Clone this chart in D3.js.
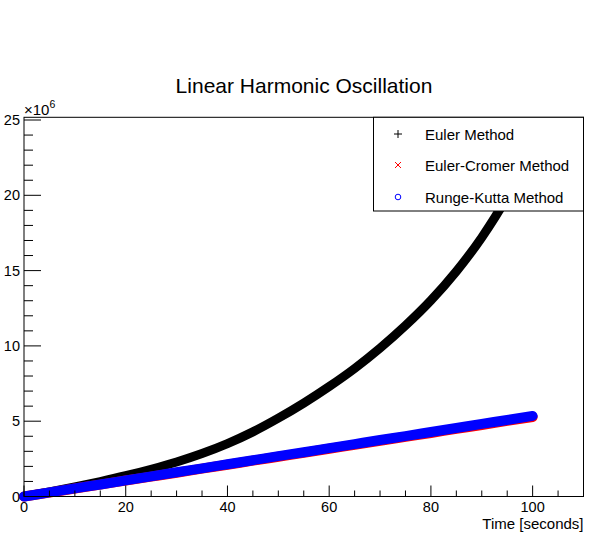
<!DOCTYPE html>
<html>
<head>
<meta charset="utf-8">
<script src="https://cdn.jsdelivr.net/npm/d3@7"></script>
<style>
  html, body { margin: 0; padding: 0; background: #fff; }
  svg { display: block; font-family: "Liberation Sans", Arial, sans-serif; }
</style>
</head>
<body>
<svg id="chart" width="606" height="540"></svg>
<script>
// ---- data (values in units of 10^6) ----
const times = [0,5,10,15,20,25,30,35,40,45,50,55,60,65,70,75,80,85,90,95,100];
const euler = [0,0.30,0.63,0.99,1.38,1.81,2.29,2.85,3.51,4.29,5.20,6.20,7.30,8.50,9.85,11.35,13.02,14.95,17.20,19.90,23.20];
const eulerCromer = [0,0.26,0.53,0.79,1.06,1.32,1.58,1.85,2.11,2.38,2.64,2.90,3.17,3.43,3.70,3.96,4.22,4.49,4.75,5.02,5.28];
const rungeKutta = [0,0.27,0.54,0.80,1.07,1.34,1.61,1.87,2.14,2.41,2.68,2.94,3.21,3.48,3.75,4.01,4.28,4.55,4.82,5.08,5.35];
const xTicks = [0,20,40,60,80,100];
const yTicks = [0,5,10,15,20,25];
const seriesNames = ["Euler Method","Euler-Cromer Method","Runge-Kutta Method"];
const titleText = "Linear Harmonic Oscillation";
const xLabel = "Time [seconds]";

const svg = d3.select("#chart");
const pLeft = 24, pRight = 583.5, pTop = 117.3, pBottom = 496.5;
const x = d3.scaleLinear().domain([0,110]).range([pLeft,pRight]);
const y = d3.scaleLinear().domain([0,25.18]).range([pBottom,pTop]);

// title
svg.append("text").attr("x",304).attr("y",93).attr("text-anchor","middle")
  .attr("font-size",21).attr("fill","#000").text(titleText);

// series
const line = d3.line().x(d=>x(d[0])).y(d=>y(d[1])).curve(d3.curveMonotoneX);
const series = [
  {vals: euler, color:"#000000", w:9},
  {vals: eulerCromer, color:"#ff0000", w:10},
  {vals: rungeKutta, color:"#0000ff", w:10}
];
series.forEach(s=>{
  svg.append("path").datum(times.map((t,i)=>[t,s.vals[i]]))
    .attr("d",line)
    .attr("fill","none").attr("stroke",s.color).attr("stroke-width",s.w)
    .attr("stroke-linecap","round").attr("stroke-linejoin","round");
});

// frame
svg.append("rect").attr("x",pLeft).attr("y",pTop).attr("width",pRight-pLeft).attr("height",pBottom-pTop)
  .attr("fill","none").attr("stroke","#000").attr("stroke-width",1);

// x axis ticks (inside)
const xMinor = d3.range(0,110.01,5);
const gx = svg.append("g");
xMinor.forEach(v=>{
  const major = xTicks.includes(v);
  gx.append("line").attr("x1",x(v)).attr("x2",x(v)).attr("y1",pBottom).attr("y2",pBottom-(major?11:6))
    .attr("stroke","#000").attr("stroke-width",1);
});
xTicks.forEach(v=>{
  gx.append("text").attr("x",x(v)).attr("y",511.5).attr("text-anchor","middle")
    .attr("font-size",14.5).text(v);
});
svg.append("text").attr("x",pRight).attr("y",528.5).attr("text-anchor","end")
  .attr("font-size",15).text(xLabel);

// y axis ticks (inside)
const yMinor = d3.range(0,25.01,1);
const gy = svg.append("g");
yMinor.forEach(v=>{
  const major = yTicks.includes(v);
  gy.append("line").attr("x1",pLeft).attr("x2",pLeft+(major?17:9)).attr("y1",y(v)).attr("y2",y(v))
    .attr("stroke","#000").attr("stroke-width",1);
});
yTicks.forEach(v=>{
  gy.append("text").attr("x",20).attr("y",y(v)+5).attr("text-anchor","end")
    .attr("font-size",14.5).text(v);
});
const ex = svg.append("text").attr("x",24).attr("y",114.5).attr("font-size",15);
ex.append("tspan").text("\u00d710");
ex.append("tspan").attr("dy",-7).attr("font-size",10.5).text("6");

// legend
const lg = svg.append("g");
lg.append("rect").attr("x",373.5).attr("y",pTop).attr("width",pRight-373.5).attr("height",211-pTop)
  .attr("fill","#fff").attr("stroke","#000").attr("stroke-width",1);
const ly = [134,165,197];
const mx = 398;
lg.append("path").attr("d",`M${mx-4},${ly[0]}H${mx+4}M${mx},${ly[0]-4}V${ly[0]+4}`)
  .attr("stroke","#000").attr("stroke-width",1);
lg.append("path").attr("d",`M${mx-3},${ly[1]-3}L${mx+3},${ly[1]+3}M${mx-3},${ly[1]+3}L${mx+3},${ly[1]-3}`)
  .attr("stroke","#ff0000").attr("stroke-width",1);
lg.append("circle").attr("cx",mx).attr("cy",ly[2]).attr("r",2.8)
  .attr("fill","none").attr("stroke","#0000ff").attr("stroke-width",1);
seriesNames.forEach((n,i)=>{
  lg.append("text").attr("x",425).attr("y",ly[i]+5.5).attr("font-size",15).text(n);
});
</script>
</body>
</html>
